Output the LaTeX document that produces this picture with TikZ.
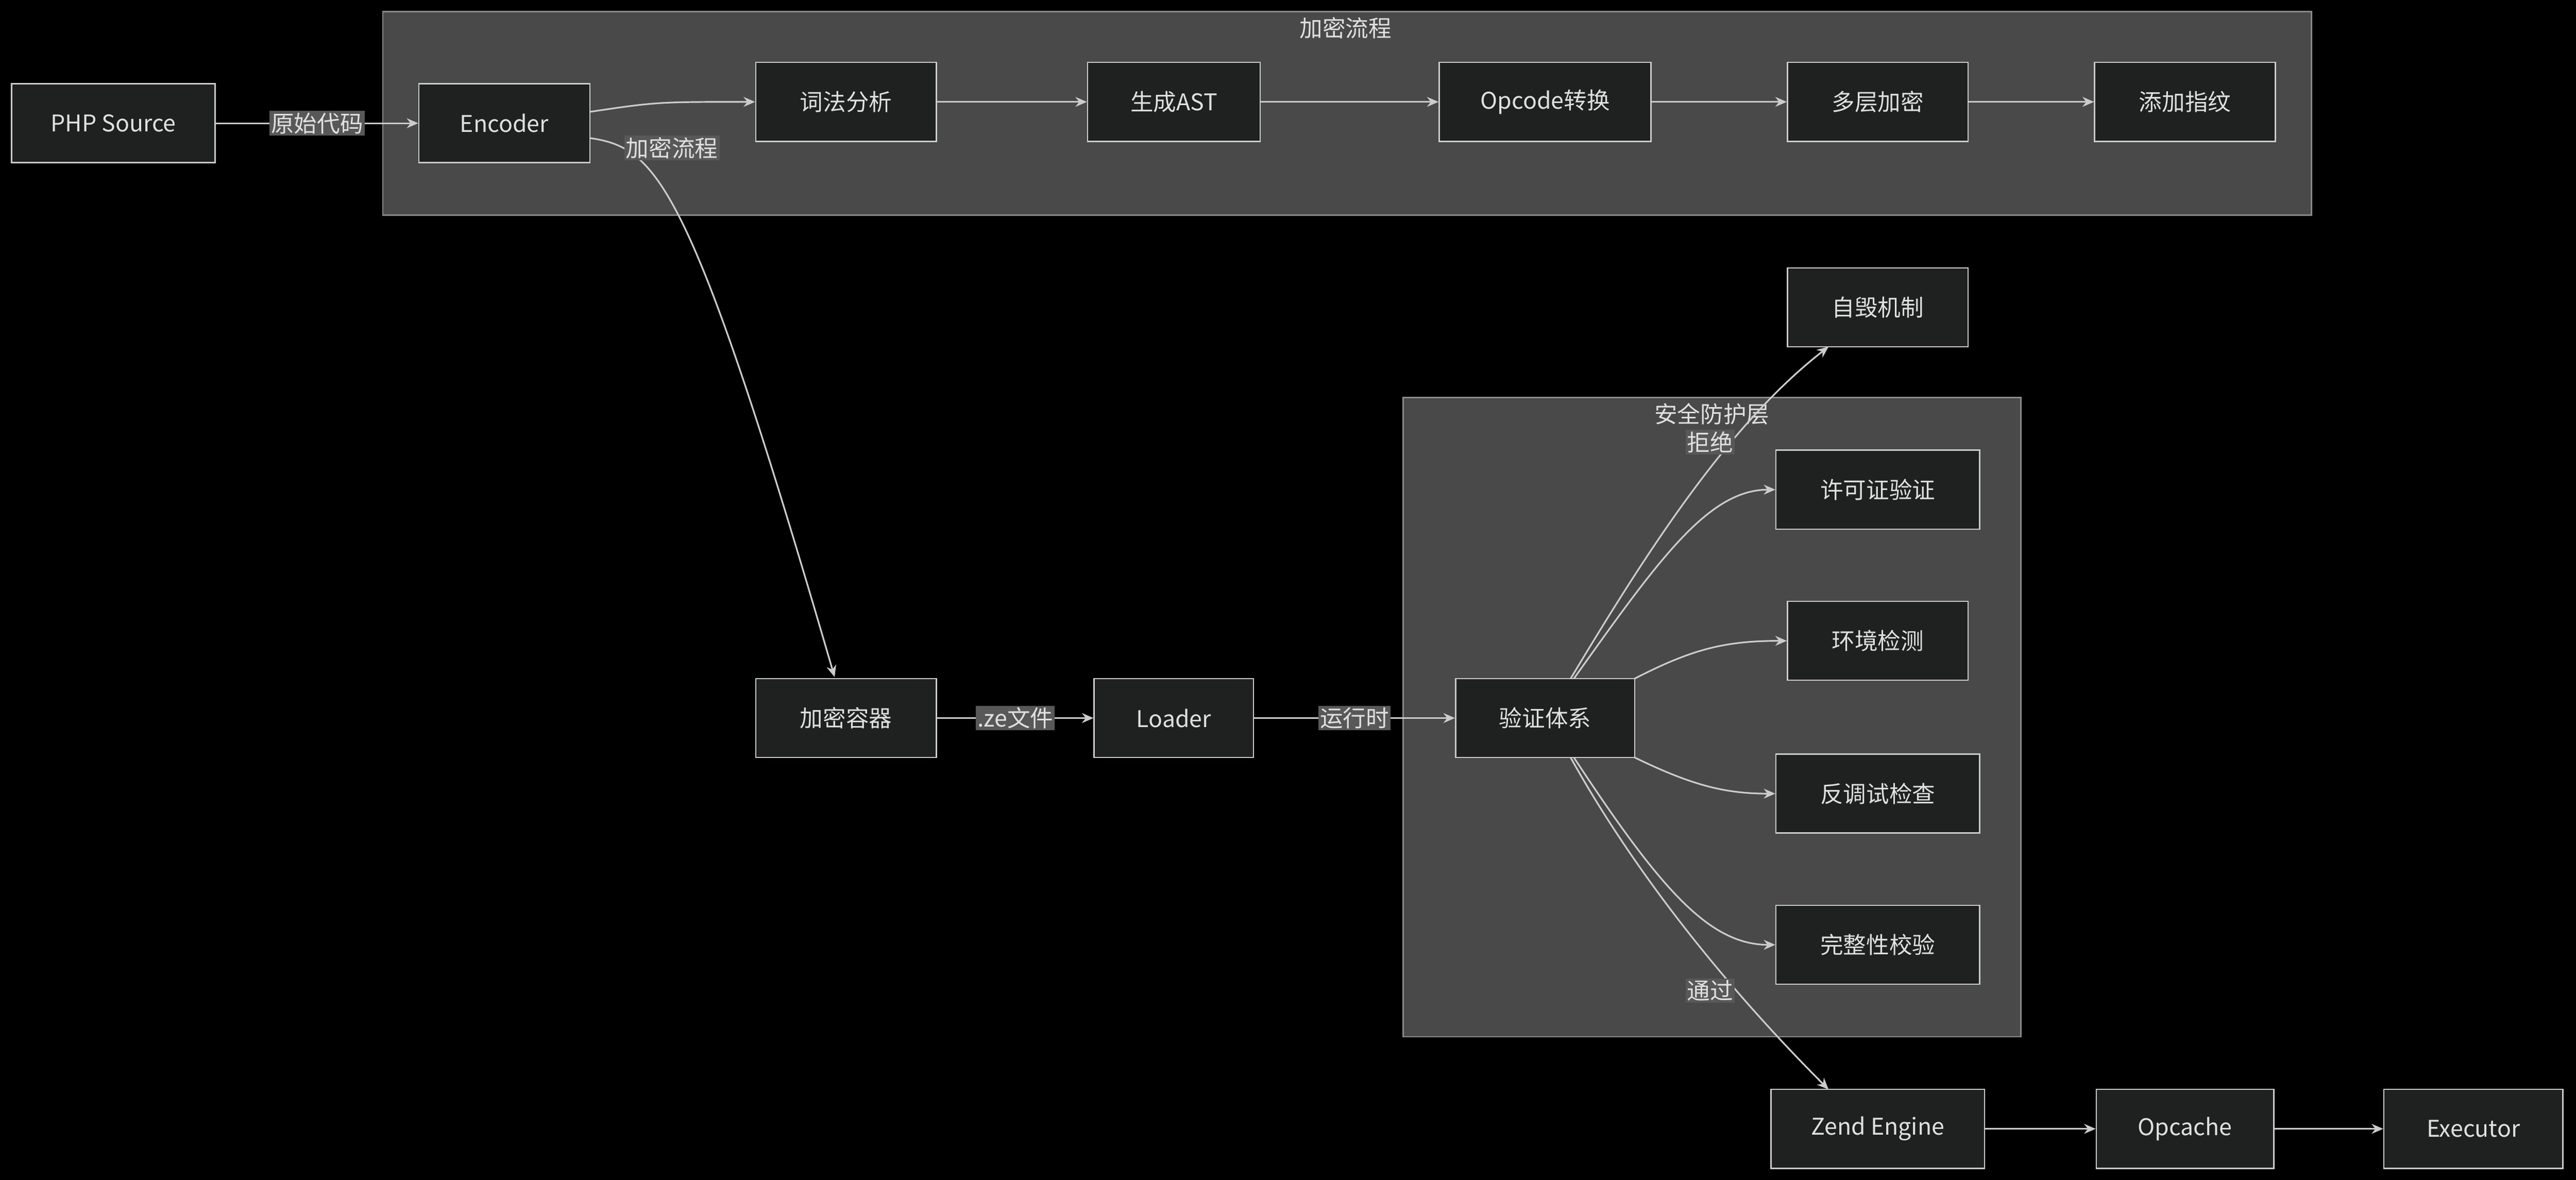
\documentclass[tikz,border=0pt]{standalone}
\usepackage{fontspec}
\setmainfont{Noto Sans CJK SC}
\usetikzlibrary{arrows.meta}
\definecolor{bg}{HTML}{000000}
\definecolor{clfill}{HTML}{484948}
\definecolor{clline}{HTML}{8A8A8A}
\definecolor{nfill}{HTML}{1F2020}
\definecolor{nline}{HTML}{CCCCCC}
\definecolor{txt}{HTML}{E0E0E0}
\definecolor{lblbg}{HTML}{585858}
\begin{document}
\begin{tikzpicture}[x=1pt,y=-1pt,
 every node/.style={font=\fontsize{14}{16}\selectfont, text=txt},
 box/.style={draw=nline, fill=nfill, line width=0.8pt, minimum height=48pt, inner sep=0pt},
 cl/.style={draw=clline, fill=clfill, line width=0.8pt},
 e/.style={draw=nline, line width=1pt, -{Stealth[length=7pt,width=6pt]}},
 lbl/.style={fill=lblbg, inner sep=1pt}]
\fill[bg] (0,0) rectangle (1568,718);
\useasboundingbox (0,0) rectangle (1568,718);
\draw[cl] (233,7) rectangle (1407,131);
\node at (819,17) {加密流程};
\draw[cl] (854,242) rectangle (1230,631);
\node at (1042,252) {安全防护层};
\node[box, minimum width=124pt] (php) at (69,75) {PHP Source};
\node[box, minimum width=104pt] (enc) at (307,75) {Encoder};
\node[box, minimum width=110pt] (lex) at (515,62) {词法分析};
\node[box, minimum width=105pt] (ast) at (714.5,62) {生成AST};
\node[box, minimum width=129pt] (opc) at (940.5,62) {Opcode转换};
\node[box, minimum width=110pt] (mul) at (1143,62) {多层加密};
\node[box, minimum width=110pt] (fp) at (1330,62) {添加指纹};
\node[box, minimum width=110pt] (self) at (1143,187) {自毁机制};
\node[box, minimum width=124pt] (lic) at (1143,298) {许可证验证};
\node[box, minimum width=110pt] (env) at (1143,390) {环境检测};
\node[box, minimum width=124pt] (dbg) at (1143,483) {反调试检查};
\node[box, minimum width=124pt] (integ) at (1143,575) {完整性校验};
\node[box, minimum width=109pt] (ver) at (940.5,437) {验证体系};
\node[box, minimum width=110pt] (cont) at (515,437) {加密容器};
\node[box, minimum width=97pt] (load) at (714.5,437) {Loader};
\node[box, minimum width=130pt] (zend) at (1143,687) {Zend Engine};
\node[box, minimum width=108pt] (opca) at (1330,687) {Opcache};
\node[box, minimum width=109pt] (exe) at (1505.5,687) {Executor};
\draw[e] (php) -- node[lbl]{原始代码} (enc);
\draw[e] (enc.east) ++(0,-7) .. controls (400,62) .. (lex.west);
\draw[e] (lex) -- (ast);
\draw[e] (ast) -- (opc);
\draw[e] (opc) -- (mul);
\draw[e] (mul) -- (fp);
\draw[e] (359,84) .. controls (400,90) and (420,110) .. (508,412);
\node[lbl] at (409,90) {加密流程};
\draw[e] (cont) -- node[lbl]{.ze文件} (load);
\draw[e] (load) -- node[lbl]{运行时} (ver);
\draw[e] (956,413) .. controls (1000,340) and (1050,260) .. (1113,211);
\node[lbl] at (1041,269) {拒绝};
\draw[e] (958,413) .. controls (1010,340) and (1040,298) .. (lic.west);
\draw[e] (995,413) .. controls (1030,395) and (1050,390) .. (env.west);
\draw[e] (995,461) .. controls (1030,478) and (1050,483) .. (dbg.west);
\draw[e] (958,461) .. controls (1010,540) and (1040,575) .. (integ.west);
\draw[e] (956,461) .. controls (1000,540) and (1060,610) .. (1113,663);
\node[lbl] at (1041,603) {通过};
\draw[e] (zend) -- (opca);
\draw[e] (opca) -- (exe);
\end{tikzpicture}
\end{document}
